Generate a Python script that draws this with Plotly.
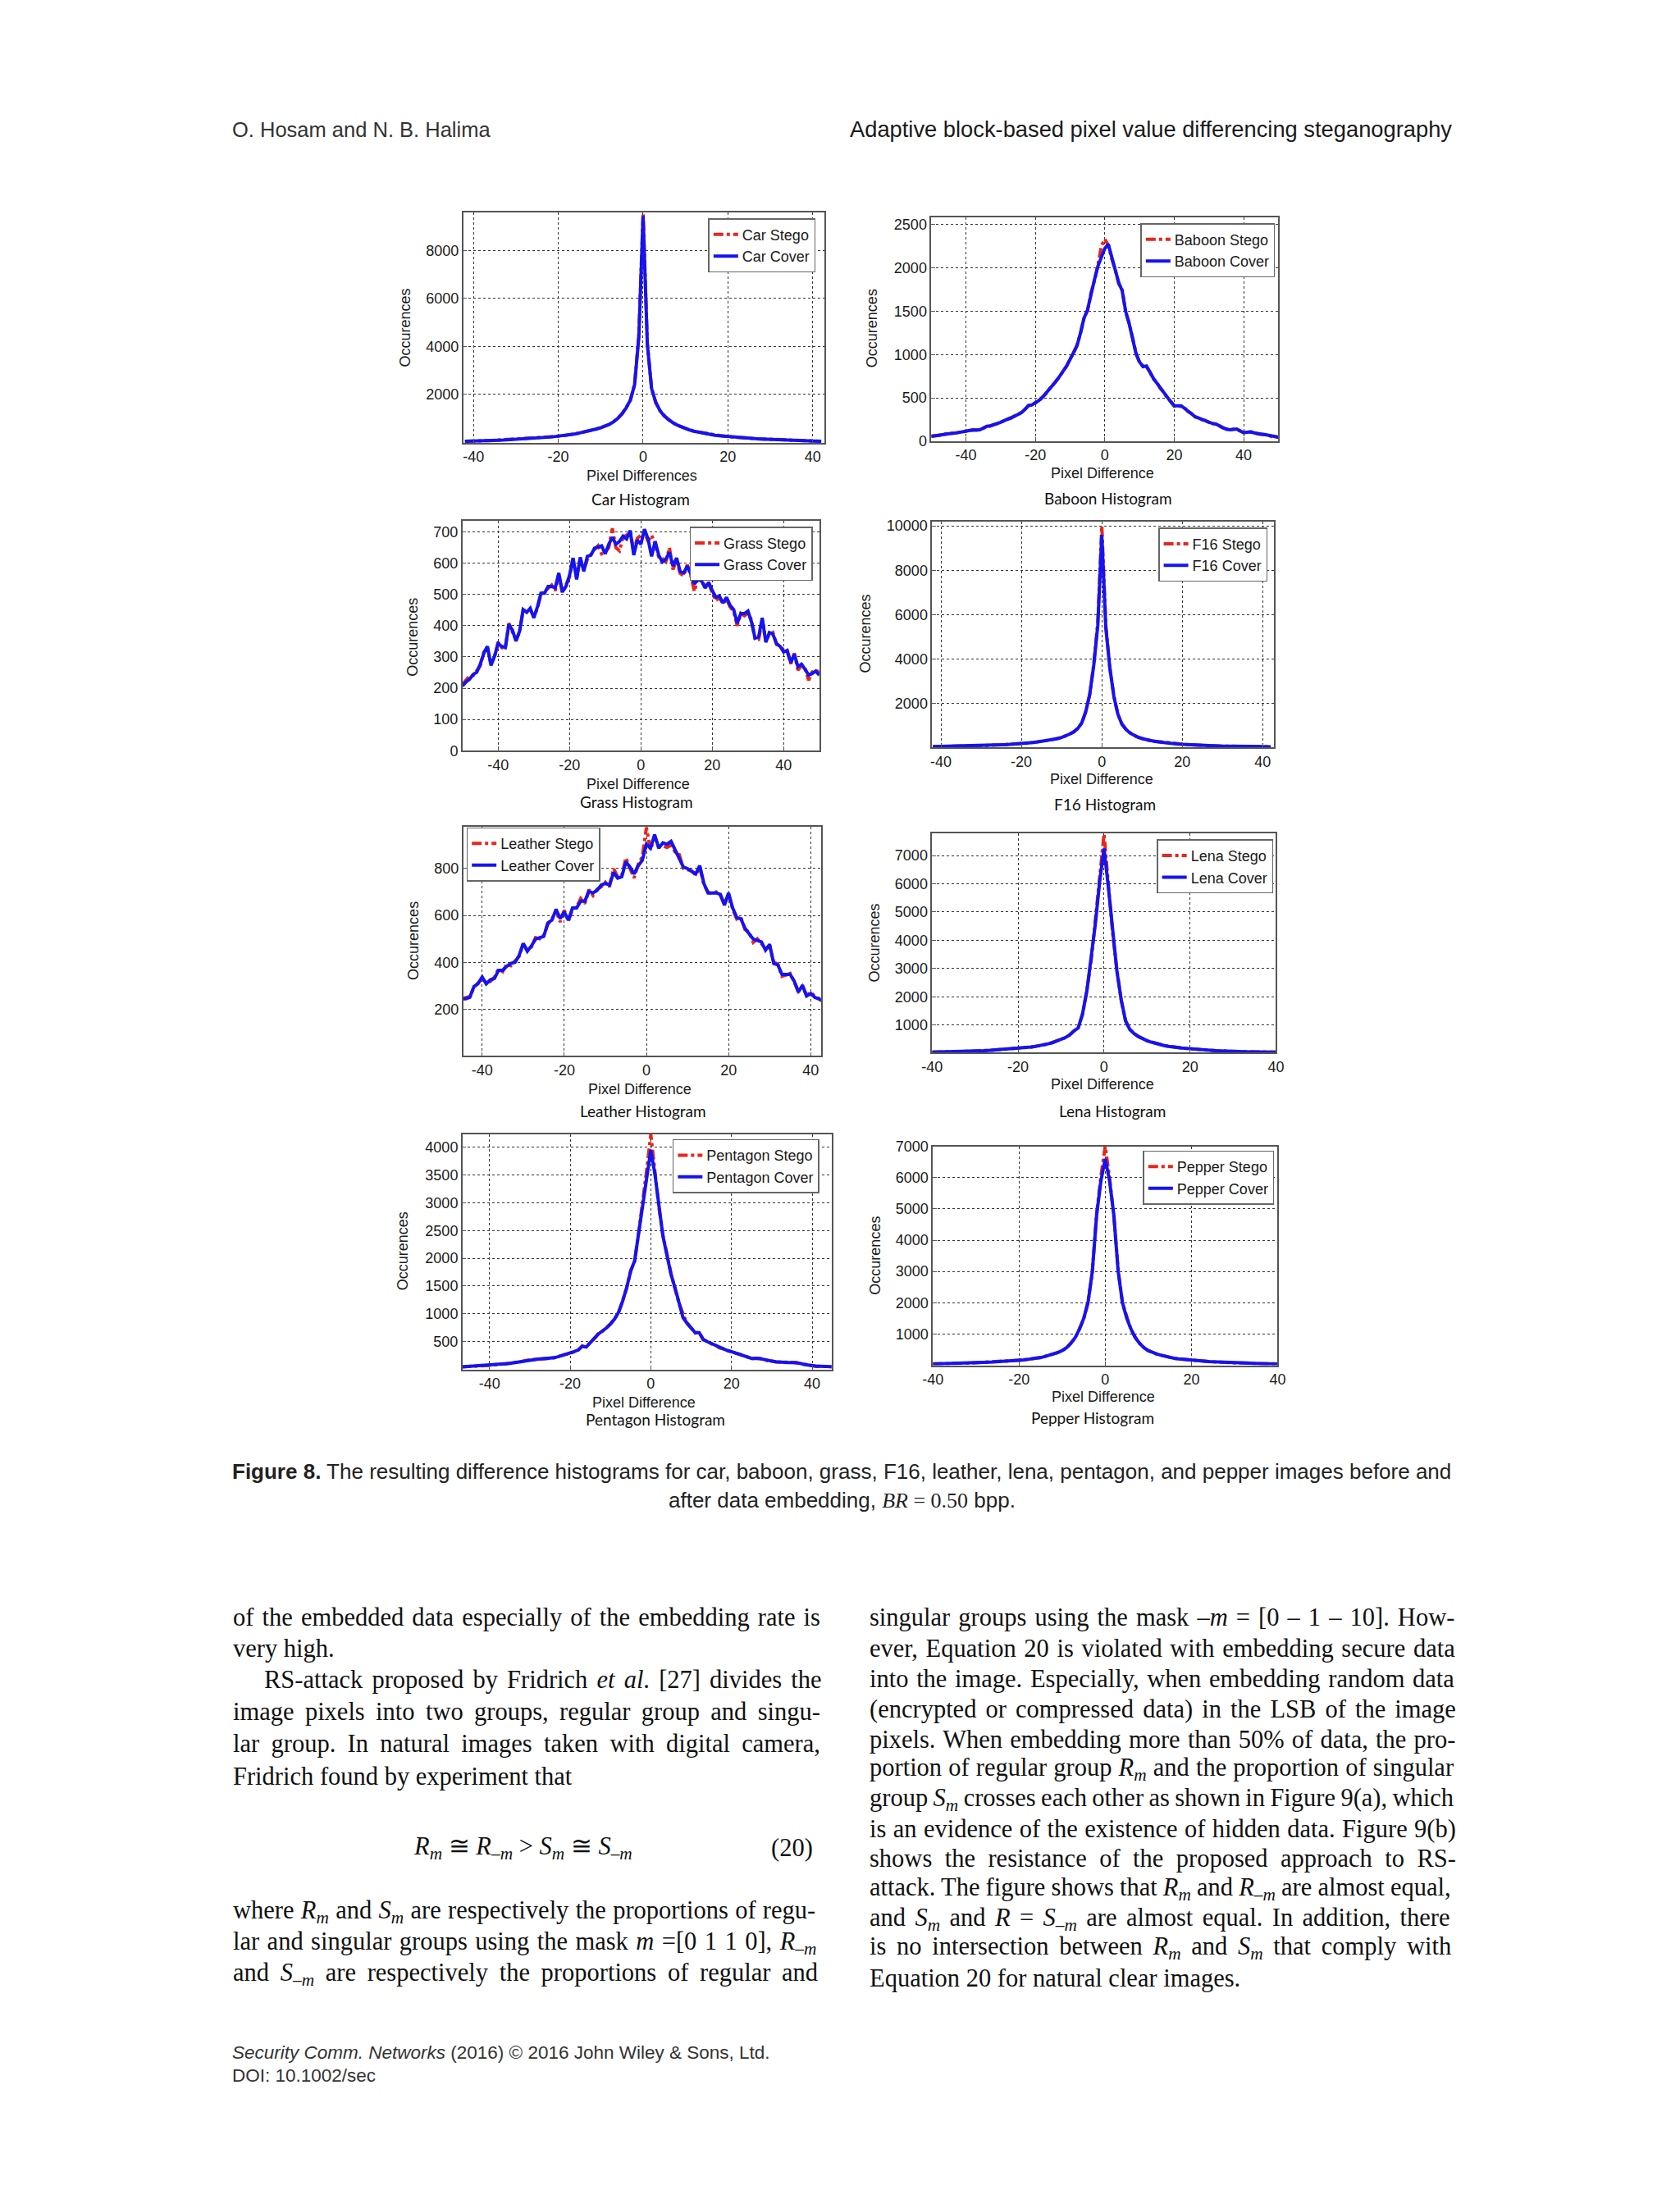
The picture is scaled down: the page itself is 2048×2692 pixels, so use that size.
import re
import plotly.graph_objects as go

# ---------------- DATA ----------------
car_x = list(range(-42, 43))
car_cover = [40, 42, 48, 50, 58, 62, 70, 78, 85, 92,
             100, 108, 118, 128, 138, 150, 160, 172, 185, 200,
             215, 232, 250, 268, 290, 318, 350, 385, 420, 460,
             505, 555, 605, 660, 740, 850, 990, 1180, 1430, 1760,
             2400, 4400, 9450, 4100, 2250, 1650, 1320, 1090, 940, 820,
             720, 640, 570, 510, 460, 420, 380, 345, 315, 290,
             268, 250, 235, 220, 205, 190, 178, 165, 152, 142,
             132, 122, 115, 106, 98, 92, 85, 78, 72, 66,
             60, 56, 50, 45, 40]
car_stego = [42, 40, 50, 52, 55, 64, 68, 80, 83, 95,
             98, 110, 115, 130, 140, 148, 162, 170, 188, 198,
             218, 230, 252, 265, 292, 315, 352, 382, 425, 455,
             510, 550, 610, 655, 745, 845, 1000, 1170, 1440, 1750,
             2420, 4500, 9560, 4150, 2230, 1670, 1310, 1100, 930, 830,
             715, 645, 565, 515, 455, 425, 375, 350, 310, 295,
             262, 252, 232, 224, 200, 194, 175, 168, 150, 145,
             130, 125, 112, 108, 96, 94, 83, 80, 70, 68,
             58, 58, 48, 47, 38]

baboon_x = list(range(-50, 51))
baboon_cover = [57, 64, 70, 75, 82, 88, 92, 96, 100, 108,
                117, 125, 132, 130, 132, 150, 173, 178, 190, 205,
                220, 238, 252, 270, 290, 310, 331, 370, 410, 420,
                441, 470, 505, 550, 600, 650, 694, 750, 804, 870,
                946, 1020, 1103, 1250, 1419, 1513, 1702, 1860, 2018, 2128,
                2223, 2270, 2112, 1970, 1829, 1734, 1497, 1356, 1198, 1009,
                914, 860, 867, 790, 725, 670, 615, 560, 504, 455,
                410, 408, 410, 378, 347, 315, 284, 268, 252, 236,
                220, 205, 200, 175, 158, 140, 132, 138, 142, 118,
                100, 105, 110, 98, 88, 84, 79, 70, 57, 52,
                47]
baboon_stego = [60, 62, 72, 73, 85, 86, 95, 94, 103, 106,
                120, 122, 135, 128, 135, 148, 176, 175, 193, 202,
                224, 235, 256, 266, 293, 306, 335, 366, 415, 416,
                445, 466, 510, 545, 605, 645, 700, 745, 810, 865,
                950, 1015, 1110, 1245, 1425, 1505, 1710, 1850, 2030, 2250,
                2330, 2260, 2100, 1980, 1815, 1745, 1485, 1365, 1190, 1015,
                905, 868, 858, 798, 718, 676, 608, 566, 498, 460,
                404, 414, 402, 384, 342, 320, 280, 272, 248, 240,
                216, 208, 196, 178, 155, 143, 130, 140, 139, 120,
                98, 108, 106, 100, 86, 86, 77, 72, 55, 54,
                46]

grass_x = list(range(-50, 51))
grass_cover = [207, 220, 229, 244, 251, 277, 312, 334, 273, 303,
               343, 334, 330, 404, 386, 351, 382, 452, 443, 456,
               425, 460, 504, 504, 526, 526, 521, 569, 508, 526,
               561, 617, 548, 619, 574, 622, 626, 648, 652, 656,
               630, 661, 683, 661, 670, 687, 678, 705, 626, 674,
               661, 709, 678, 622, 670, 626, 604, 613, 635, 591,
               617, 574, 569, 591, 565, 534, 548, 543, 521, 539,
               513, 491, 495, 473, 491, 465, 452, 408, 439, 439,
               447, 412, 360, 364, 425, 347, 378, 373, 343, 334,
               316, 321, 282, 308, 269, 277, 260, 242, 247, 255,
               242]
grass_stego = [212, 226, 240, 240, 255, 272, 316, 330, 278, 300,
               348, 330, 325, 408, 380, 356, 378, 448, 448, 452,
               430, 455, 500, 510, 520, 530, 512, 565, 505, 530,
               556, 612, 552, 615, 580, 612, 630, 644, 656, 630,
               636, 650, 712, 650, 640, 684, 690, 700, 640, 680,
               690, 700, 670, 690, 660, 620, 615, 605, 650, 580,
               610, 568, 560, 595, 560, 510, 556, 540, 530, 535,
               505, 480, 490, 470, 485, 460, 445, 400, 440, 432,
               440, 418, 355, 356, 420, 352, 372, 378, 340, 336,
               322, 318, 278, 312, 258, 272, 265, 225, 252, 258,
               250]

f16_x = list(range(-42, 43))
f16_cover = [35, 38, 40, 42, 45, 48, 50, 55, 58, 62,
             66, 70, 75, 82, 90, 100, 108, 116, 125, 135,
             145, 158, 170, 185, 200, 220, 245, 270, 300, 330,
             360, 400, 450, 520, 600, 700, 850, 1100, 1600, 2400,
             3700, 5500, 9600, 5400, 3600, 2300, 1500, 1050, 820, 650,
             540, 460, 400, 350, 310, 280, 250, 225, 200, 180,
             165, 150, 138, 126, 115, 106, 98, 90, 83, 76,
             70, 65, 60, 56, 52, 49, 46, 43, 41, 39,
             37, 35, 33, 32, 30]
f16_stego = [36, 37, 42, 40, 46, 47, 52, 54, 60, 61,
             68, 69, 77, 80, 92, 98, 110, 115, 128, 133,
             148, 156, 172, 183, 204, 218, 248, 268, 305, 326,
             365, 398, 455, 515, 610, 695, 860, 1090, 1620, 2380,
             3750, 5650, 10000, 5500, 3580, 2320, 1490, 1060, 810, 660,
             535, 465, 395, 355, 305, 285, 245, 230, 196, 184,
             162, 153, 135, 128, 113, 108, 96, 92, 81, 78,
             68, 67, 58, 57, 50, 51, 44, 45, 40, 40,
             36, 36, 32, 33, 29]

leather_x = list(range(-45, 44))
leather_cover = [244, 244, 250, 296, 308, 337, 308, 325, 331, 366,
                 366, 383, 395, 400, 429, 481, 447, 470, 499, 505,
                 510, 568, 580, 626, 586, 615, 580, 632, 632, 661,
                 661, 702, 696, 707, 730, 736, 730, 783, 759, 765,
                 829, 806, 777, 812, 835, 904, 887, 945, 887, 910,
                 904, 916, 881, 846, 806, 800, 788, 777, 812, 736,
                 696, 696, 696, 690, 644, 696, 632, 591, 586, 545,
                 522, 499, 493, 487, 452, 476, 395, 389, 348, 348,
                 348, 319, 273, 302, 256, 267, 250, 244, 232]
leather_stego = [244, 248, 254, 292, 312, 332, 312, 318, 336, 372,
                 360, 392, 385, 404, 425, 478, 452, 465, 505, 500,
                 515, 562, 585, 620, 572, 622, 575, 628, 636, 672,
                 650, 710, 685, 712, 722, 742, 722, 800, 765, 770,
                 846, 800, 760, 818, 850, 975, 880, 935, 895, 898,
                 890, 900, 870, 860, 800, 795, 790, 772, 805, 730,
                 700, 690, 700, 686, 648, 690, 628, 585, 592, 540,
                 528, 485, 500, 480, 458, 470, 400, 392, 340, 345,
                 352, 316, 276, 298, 258, 272, 255, 245, 235]

lena_x = list(range(-40, 41))
lena_cover = [48, 50, 52, 54, 57, 60, 64, 68, 72, 77,
              83, 90, 97, 105, 115, 125, 136, 148, 160, 175,
              190, 200, 210, 225, 245, 270, 300, 340, 380, 430,
              490, 560, 650, 800, 900, 1400, 2200, 3300, 4600, 6100,
              7250, 5900, 4300, 2900, 1900, 1150, 850, 700, 600, 520,
              450, 400, 355, 315, 280, 250, 225, 205, 190, 180,
              165, 150, 138, 126, 115, 106, 97, 90, 82, 76,
              70, 66, 62, 58, 55, 52, 50, 48, 46, 45,
              44]
lena_stego = [49, 49, 53, 53, 58, 59, 65, 67, 73, 76,
              85, 88, 99, 103, 117, 123, 138, 146, 163, 172,
              193, 198, 214, 222, 250, 266, 305, 335, 388, 425,
              495, 555, 660, 790, 920, 1380, 2230, 3250, 4650, 6250,
              7760, 6000, 4250, 2950, 1870, 1170, 840, 710, 590, 525,
              445, 405, 350, 320, 276, 254, 222, 208, 188, 182,
              162, 152, 136, 128, 113, 108, 95, 92, 80, 78,
              69, 67, 61, 59, 54, 53, 49, 49, 45, 46,
              43]

pentagon_x = list(range(-47, 46))
pentagon_cover = [45, 50, 52, 55, 60, 64, 68, 74, 80, 86,
                  92, 100, 108, 120, 132, 145, 158, 172, 180, 186,
                  190, 195, 197, 210, 228, 248, 268, 294, 320, 350,
                  417, 402, 490, 560, 637, 690, 745, 820, 906, 1028,
                  1224, 1469, 1763, 1959, 2448, 3035, 3525, 3950, 3525, 2938,
                  2400, 2057, 1714, 1469, 1175, 931, 833, 735, 661, 661,
                  539, 500, 466, 430, 392, 365, 340, 319, 295, 270,
                  245, 220, 197, 197, 197, 180, 160, 148, 138, 130,
                  123, 123, 123, 123, 110, 89, 75, 60, 58, 55,
                  52, 50, 48]
pentagon_stego = [46, 48, 54, 53, 62, 62, 70, 72, 83, 84,
                  95, 98, 112, 118, 135, 142, 162, 170, 183, 184,
                  193, 192, 200, 208, 232, 245, 272, 290, 325, 346,
                  422, 398, 496, 555, 645, 685, 752, 815, 912, 1020,
                  1235, 1455, 1780, 1945, 2470, 3010, 3600, 4230, 3560, 2920,
                  2420, 2040, 1730, 1450, 1190, 1000, 825, 745, 655, 668,
                  530, 508, 460, 436, 386, 370, 335, 324, 290, 274,
                  240, 224, 190, 202, 192, 184, 155, 152, 134, 133,
                  120, 126, 120, 126, 106, 92, 72, 63, 56, 57,
                  50, 51, 46]

pepper_x = list(range(-40, 41))
pepper_cover = [45, 47, 50, 52, 55, 58, 62, 66, 70, 75,
                80, 86, 92, 98, 105, 112, 120, 130, 140, 150,
                160, 175, 190, 205, 225, 250, 280, 320, 360, 410,
                470, 560, 700, 880, 1150, 1500, 2000, 3000, 4800, 5900,
                6600, 5900, 4800, 3000, 2000, 1500, 1150, 880, 700, 560,
                470, 410, 360, 320, 280, 250, 225, 205, 190, 175,
                160, 150, 140, 130, 120, 112, 105, 98, 92, 86,
                80, 75, 70, 66, 62, 58, 55, 52, 50, 47,
                45]
pepper_stego = [46, 46, 51, 51, 56, 57, 63, 65, 71, 74,
                82, 85, 94, 97, 107, 110, 122, 128, 143, 148,
                163, 172, 194, 202, 230, 246, 285, 316, 366, 405,
                478, 552, 710, 870, 1165, 1480, 2030, 2970, 4850, 6050,
                7000, 6000, 4750, 3050, 1980, 1520, 1140, 890, 695, 565,
                465, 415, 355, 325, 276, 254, 222, 208, 187, 178,
                158, 152, 138, 132, 118, 114, 103, 100, 90, 88,
                78, 77, 68, 68, 60, 60, 53, 54, 48, 48,
                44]

x_ticks = [-40, -20, 0, 20, 40]
x_ticklabels = ["-40", "-20", "0", "20", "40"]
car_yticks = [2000, 4000, 6000, 8000]
baboon_yticks = [0, 500, 1000, 1500, 2000, 2500]
grass_yticks = [0, 100, 200, 300, 400, 500, 600, 700]
f16_yticks = [2000, 4000, 6000, 8000, 10000]
leather_yticks = [200, 400, 600, 800]
lena_yticks = [1000, 2000, 3000, 4000, 5000, 6000, 7000]
pentagon_yticks = [500, 1000, 1500, 2000, 2500, 3000, 3500, 4000]
pepper_yticks = [1000, 2000, 3000, 4000, 5000, 6000, 7000]

# ---------------- LAYOUT HELPERS ----------------
W, H = 2048, 2692


def px(x):
    return x / W


def py(y):
    return 1 - y / H


SANS = "Liberation Sans, Arial, sans-serif"
SERIF = "Liberation Serif, Times New Roman, serif"
CAL = "Lato, Noto Sans, sans-serif"
RED = "#e8261c"
BLUE = "#1414f0"

# Times-Roman advance widths (per 1000 em), used to justify body lines
_TW = {' ': 250, ',': 250, '.': 250, '-': 333, '(': 333, ')': 333, '[': 333, ']': 333,
       '%': 833, '=': 564, '>': 564, '≅': 564, '–': 500, ':': 278, ';': 278,
       'A': 722, 'B': 667, 'C': 667, 'D': 722, 'E': 611, 'F': 556, 'G': 722, 'H': 722,
       'I': 333, 'J': 389, 'K': 722, 'L': 611, 'M': 889, 'N': 722, 'O': 722, 'P': 556,
       'Q': 722, 'R': 667, 'S': 556, 'T': 611, 'U': 722, 'V': 722, 'W': 944, 'X': 722,
       'Y': 722, 'Z': 611,
       'a': 444, 'b': 500, 'c': 444, 'd': 500, 'e': 444, 'f': 333, 'g': 500, 'h': 500,
       'i': 278, 'j': 278, 'k': 500, 'l': 278, 'm': 778, 'n': 500, 'o': 500, 'p': 500,
       'q': 500, 'r': 333, 's': 389, 't': 278, 'u': 500, 'v': 500, 'w': 722, 'x': 500,
       'y': 500, 'z': 444}


def _strip(s):
    return re.sub(r'<[^>]+>', '', s).replace('&gt;', '>')


def text_width(s, size):
    total = 0.0
    for part in re.split(r'(<sub>.*?</sub>)', s):
        scale = 0.7 if part.startswith('<sub>') else 1.0
        total += scale * sum(_TW.get(ch, 500) for ch in _strip(part))
    return total * size / 1000.0


def justify(s, target, size):
    nat = text_width(s, size)
    nsp = _strip(s).count(' ')
    ws = (target - nat) / max(nsp, 1)
    ws = max(min(ws, 12.0), -2.0)
    return f'<span style="word-spacing:{ws:.2f}px">{s}</span>'


panels = [
    dict(name="Car", x=car_x, s=car_stego, c=car_cover, box=(558, 1003, 251, 534),
         xr=[-42.4, 42.7], yr=[-30, 9590], yt=car_yticks, xlab="Pixel Differences",
         xl=(778, 574), yl=(487, 393), tl=(777, 603), leg=(860, 258)),
    dict(name="Baboon", x=baboon_x, s=baboon_stego, c=baboon_cover, box=(1135, 1563, 257, 532),
         xr=[-50, 50], yr=[0, 2580], yt=baboon_yticks, xlab="Pixel Difference",
         xl=(1346, 571), yl=(1062, 393), tl=(1353, 602), leg=(1393, 264)),
    dict(name="Grass", x=grass_x, s=grass_stego, c=grass_cover, box=(557, 997, 630, 912),
         xr=[-50, 50], yr=[0, 735], yt=grass_yticks, xlab="Pixel Difference",
         xl=(774, 953), yl=(496, 772), tl=(772, 975), leg=(837, 637)),
    dict(name="F16", x=f16_x, s=f16_stego, c=f16_cover, box=(1136, 1557, 631, 908),
         xr=[-42.2, 42.7], yr=[0, 10180], yt=f16_yticks, xlab="Pixel Difference",
         xl=(1345, 947), yl=(1054, 768), tl=(1349, 978), leg=(1415, 638)),
    dict(name="Leather", x=leather_x, s=leather_stego, c=leather_cover, box=(558, 999, 1005, 1287),
         xr=[-44.6, 42.5], yr=[0, 980], yt=leather_yticks, xlab="Pixel Difference",
         xl=(776, 1328), yl=(497, 1145), tl=(780, 1355), leg=(562, 1006)),
    dict(name="Lena", x=lena_x, s=lena_stego, c=lena_cover, box=(1136, 1560, 1014, 1283),
         xr=[-40, 40], yr=[25, 7770], yt=lena_yticks, xlab="Pixel Difference",
         xl=(1346, 1322), yl=(1065, 1148), tl=(1358, 1355), leg=(1413, 1021)),
    dict(name="Pentagon", x=pentagon_x, s=pentagon_stego, c=pentagon_cover, box=(557, 1012, 1383, 1672),
         xr=[-46.7, 44.8], yr=[0, 4235], yt=pentagon_yticks, xlab="Pixel Difference",
         xl=(781, 1713), yl=(483, 1527), tl=(795, 1733), leg=(816, 1389)),
    dict(name="Pepper", x=pepper_x, s=pepper_stego, c=pepper_cover, box=(1137, 1562, 1398, 1667),
         xr=[-40, 40], yr=[0, 7000], yt=pepper_yticks, xlab="Pixel Difference",
         xl=(1347, 1706), yl=(1066, 1532), tl=(1334, 1731), leg=(1396, 1403)),
]

fig = go.Figure()
layout = dict(width=W, height=H, margin=dict(l=0, r=0, t=0, b=0),
              paper_bgcolor="white", plot_bgcolor="white", showlegend=True)
annotations = []

tickfont = dict(family=SANS, size=18, color="#1a1a1a")
for i, p in enumerate(panels, start=1):
    sfx = "" if i == 1 else str(i)
    legkey = "legend" if i == 1 else f"legend{i}"
    fig.add_trace(go.Scatter(x=p["x"], y=p["s"], mode="lines", name=f"{p['name']} Stego",
                             line=dict(color=RED, width=4, dash="dashdot"),
                             xaxis=f"x{sfx}", yaxis=f"y{sfx}", legend=legkey))
    fig.add_trace(go.Scatter(x=p["x"], y=p["c"], mode="lines", name=f"{p['name']} Cover",
                             line=dict(color=BLUE, width=4),
                             xaxis=f"x{sfx}", yaxis=f"y{sfx}", legend=legkey))
    l, r, t, b = p["box"]
    common = dict(showgrid=True, gridcolor="#333", griddash="dot", gridwidth=1.3,
                  showline=True, mirror=True, linecolor="#555", linewidth=1.5,
                  ticks="inside", ticklen=5, tickcolor="#555", zeroline=False,
                  tickfont=tickfont, fixedrange=True)
    layout[f"xaxis{sfx}"] = dict(domain=[px(l), px(r)], range=p["xr"], tickvals=x_ticks,
                                 ticktext=x_ticklabels, anchor=f"y{sfx}", **common)
    layout[f"yaxis{sfx}"] = dict(domain=[py(b), py(t)], range=p["yr"], tickvals=p["yt"],
                                 ticktext=[str(v) for v in p["yt"]], anchor=f"x{sfx}", **common)
    lx, ly = p["leg"]
    layout[legkey] = dict(x=px(lx), y=py(ly), xanchor="left", yanchor="top",
                          bgcolor="white", bordercolor="#666", borderwidth=1.5,
                          font=dict(family=SANS, size=18, color="#1a1a1a"), tracegroupgap=0)
    annotations.append(dict(x=px(p["xl"][0]), y=py(p["xl"][1]), text=p["xlab"],
                            font=dict(family=SANS, size=18, color="#1a1a1a")))
    annotations.append(dict(x=px(p["yl"][0]), y=py(p["yl"][1]), text="Occurences", textangle=-90,
                            font=dict(family=SANS, size=18, color="#1a1a1a")))
    annotations.append(dict(x=px(p["tl"][0]), y=py(p["tl"][1]), text=f"{p['name']} Histogram",
                            font=dict(family=CAL, size=19, color="#111")))

# page header
annotations.append(dict(x=px(271), y=py(149), xanchor="left", text="O. Hosam and N. B. Halima",
                        font=dict(family=SANS, size=25.5, color="#333")))
annotations.append(dict(x=px(1779), y=py(149), xanchor="right",
                        text="Adaptive block-based pixel value differencing steganography",
                        font=dict(family=SANS, size=27.3, color="#1a1a1a")))
# caption
annotations.append(dict(x=px(271), y=py(1797), xanchor="left",
                        text="<b>Figure 8.</b> The resulting difference histograms for car, baboon, grass, F16, "
                             "leather, lena, pentagon, and pepper images before and",
                        font=dict(family=SANS, size=26, color="#222")))
annotations.append(dict(x=px(1025), y=py(1833), xanchor="center",
                        text="after data embedding, <span style=\"font-family:Liberation Serif\"><i>BR</i> = 0.50</span> bpp.",
                        font=dict(family=SANS, size=26, color="#222")))

Rm = "<i>R</i><sub><i>m</i></sub>"
Rmm = "<i>R</i><sub>–<i>m</i></sub>"
Sm = "<i>S</i><sub><i>m</i></sub>"
Smm = "<i>S</i><sub>–<i>m</i></sub>"
BODY = 30.5
body_font = dict(family=SERIF, size=BODY, color="#111")
# (x, y, text, justify?)
left_lines = [
    (272, 1977, "of the embedded data especially of the embedding rate is", True),
    (272, 2015, "very high.", False),
    (310, 2053, "RS-attack proposed by Fridrich <i>et al</i>. [27] divides the", True),
    (272, 2093, "image pixels into two groups, regular group and singu-", True),
    (272, 2132, "lar group. In natural images taken with digital camera,", True),
    (272, 2172, "Fridrich found by experiment that", False),
    (272, 2338, f"where {Rm} and {Sm} are respectively the proportions of regu-", True),
    (272, 2377, f"lar and singular groups using the mask <i>m</i> =[0 1 1 0], {Rmm}", True),
    (272, 2415, f"and {Smm} are respectively the proportions of regular and", True),
]
right_lines = [
    (1057, 1977, "singular groups using the mask –<i>m</i> = [0 – 1 – 10]. How-", True),
    (1057, 2015, "ever, Equation 20 is violated with embedding secure data", True),
    (1057, 2052, "into the image. Especially, when embedding random data", True),
    (1057, 2090, "(encrypted or compressed data) in the LSB of the image", True),
    (1057, 2127, "pixels. When embedding more than 50% of data, the pro-", True),
    (1057, 2163, f"portion of regular group {Rm} and the proportion of singular", True),
    (1057, 2200, f"group {Sm} crosses each other as shown in Figure 9(a), which", True),
    (1057, 2237, "is an evidence of the existence of hidden data. Figure 9(b)", True),
    (1057, 2273, "shows the resistance of the proposed approach to RS-", True),
    (1057, 2310, f"attack. The figure shows that {Rm} and {Rmm} are almost equal,", True),
    (1057, 2347, f"and {Sm} and <i>R</i> = {Smm} are almost equal. In addition, there", True),
    (1057, 2383, f"is no intersection between {Rm} and {Sm} that comply with", True),
    (1057, 2420, "Equation 20 for natural clear images.", False),
]
LEFT_END, RIGHT_END = 988, 1772
for x0, y0, txt, jus in left_lines + right_lines:
    end = LEFT_END if x0 < 1000 else RIGHT_END
    t = justify(txt, end - x0, BODY) if jus else txt
    annotations.append(dict(x=px(x0), y=py(y0), xanchor="left", text=t, font=body_font))
annotations.append(dict(x=px(632), y=py(2260), xanchor="center",
                        text=f"{Rm} ≅ {Rmm} &gt; {Sm} ≅ {Smm}", font=body_font))
annotations.append(dict(x=px(991), y=py(2260), xanchor="right", text="(20)", font=body_font))

# footer
annotations.append(dict(x=px(271), y=py(2511), xanchor="left",
                        text="<i>Security Comm. Networks</i> (2016) © 2016 John Wiley &amp; Sons, Ltd.",
                        font=dict(family=SANS, size=22.5, color="#333")))
annotations.append(dict(x=px(271), y=py(2539), xanchor="left", text="DOI: 10.1002/sec",
                        font=dict(family=SANS, size=22.5, color="#333")))

for a in annotations:
    a.setdefault("xref", "paper")
    a.setdefault("yref", "paper")
    a.setdefault("showarrow", False)
    a.setdefault("xanchor", "center")
    a.setdefault("yanchor", "middle")

layout["annotations"] = annotations
fig.update_layout(**layout)
fig.write_html("out.html", config={"displayModeBar": False},
               post_script="document.body.style.margin='0px';document.body.style.overflow='hidden';")
